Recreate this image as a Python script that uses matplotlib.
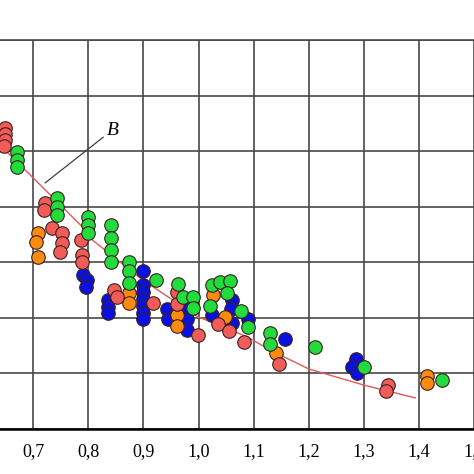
import matplotlib
matplotlib.use("Agg")
import matplotlib.pyplot as plt

# ---- data (x, y in plot units) ----
red_x = [0.649, 0.649, 0.649, 0.647, 0.722, 0.720, 0.734, 0.752, 0.752, 0.749,
         0.787, 0.789, 0.789, 0.847, 0.852, 0.917, 0.961, 0.961, 0.999, 1.035,
         1.055, 1.083, 1.146, 1.344, 1.340]
red_y = [5.42, 5.31, 5.20, 5.09, 4.07, 3.94, 3.62, 3.53, 3.35, 3.19,
         3.40, 3.13, 3.01, 2.50, 2.38, 2.27, 2.47, 2.25, 1.69, 1.89,
         1.76, 1.57, 1.17, 0.79, 0.68]

green_x = [0.671, 0.671, 0.671, 0.743, 0.743, 0.743, 0.800, 0.800, 0.800,
           0.841, 0.841, 0.841, 0.841, 0.874, 0.874, 0.874, 0.923, 0.963,
           0.972, 0.990, 0.990, 1.024, 1.039, 1.057, 1.052, 1.021, 1.077,
           1.090, 1.130, 1.130, 1.211, 1.300, 1.442]
green_y = [4.98, 4.84, 4.71, 4.16, 3.99, 3.85, 3.82, 3.67, 3.53,
           3.67, 3.44, 3.22, 3.01, 3.01, 2.84, 2.63, 2.68, 2.61,
           2.38, 2.38, 2.18, 2.59, 2.65, 2.66, 2.45, 2.21, 2.12,
           1.84, 1.73, 1.53, 1.48, 1.12, 0.88]

blue_x = [0.791, 0.798, 0.796, 0.836, 0.836, 0.836, 0.899, 0.899, 0.899,
          0.899, 0.899, 0.899, 0.899, 0.943, 0.945, 0.977, 0.979, 0.979,
          1.024, 1.061, 1.059, 1.061, 1.090, 1.157, 1.286, 1.278, 1.287]
blue_y = [2.77, 2.68, 2.56, 2.32, 2.20, 2.09, 2.84, 2.59, 2.47,
          2.34, 2.21, 2.09, 1.98, 2.16, 1.98, 2.16, 1.98, 1.78,
          2.05, 2.32, 2.16, 1.91, 1.98, 1.62, 1.26, 1.12, 1.01]

orange_x = [0.709, 0.705, 0.709, 0.874, 0.874, 0.961, 0.961, 1.026, 1.048,
            1.141, 1.414, 1.414]
orange_y = [3.53, 3.37, 3.10, 2.45, 2.27, 2.05, 1.85, 2.41, 2.02,
            1.37, 0.95, 0.83]

# curve B
curve_x = [0.62, 0.649, 0.700, 0.789, 0.800, 0.899, 0.999, 1.088, 1.130, 1.200, 1.300, 1.393]
curve_y = [5.45, 5.02, 4.52, 3.64, 3.46, 2.68, 2.02, 1.66, 1.42, 1.08, 0.79, 0.56]

xticks = [0.7, 0.8, 0.9, 1.0, 1.1, 1.2, 1.3, 1.4, 1.5]
xtick_labels = ["0,7", "0,8", "0,9", "1,0", "1,1", "1,2", "1,3", "1,4", "1,5"]
yticks = [0, 1, 2, 3, 4, 5, 6, 7]

fig = plt.figure(figsize=(4.74, 4.74), dpi=100)
ax = fig.add_axes([-0.0465, 0.0949, 1.1168, 0.8207])
ax.set_xlim(0.6, 1.56)
ax.set_ylim(0, 7)

ax.set_xticks(xticks)
ax.set_xticklabels(xtick_labels, fontfamily="Liberation Serif", fontsize=13)
ax.set_yticks(yticks)
ax.set_yticklabels([])
ax.tick_params(length=0, pad=10)
ax.grid(True, color="#484848", linewidth=1.2)
ax.set_axisbelow(True)

for side in ("left", "right", "top"):
    ax.spines[side].set_color("#484848")
    ax.spines[side].set_linewidth(1.2)
ax.spines["bottom"].set_color("black")
ax.spines["bottom"].set_linewidth(1.8)

ax.plot(curve_x, curve_y, color="#e05a5a", linewidth=1.0, zorder=2)

mk = dict(s=95, edgecolors="#3a2020", linewidths=0.8, zorder=3)
ax.scatter(blue_x, blue_y, color="#0a10e0", **mk)
ax.scatter(orange_x, orange_y, color="#ff8a10", **mk)
ax.scatter(red_x, red_y, color="#f25c58", **mk)
ax.scatter(green_x, green_y, color="#22dc3c", **mk)

# label B with leader line
ax.plot([0.827, 0.722], [5.25, 4.43], color="#404040", linewidth=0.9)
ax.text(0.845, 5.38, "B", fontfamily="Liberation Serif", fontstyle="italic",
        fontsize=14, ha="center", va="center")

fig.savefig("out.png", dpi=100)
